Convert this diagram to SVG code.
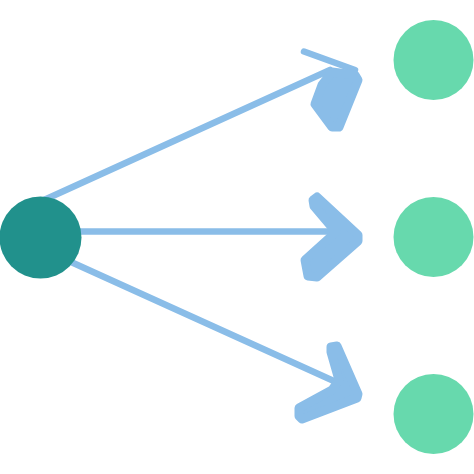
<svg xmlns="http://www.w3.org/2000/svg" width="474" height="474" viewBox="0 0 474 474">
<style>
.line{stroke:#8abde8;stroke-width:6.5;fill:none;stroke-linecap:round}
.head{fill:#8abde8;stroke:#8abde8;stroke-width:9;stroke-linejoin:round}
.src{fill:#21918c}
.dst{fill:#67d9ad}
</style>
<g id="connectors">
<line class="line" x1="44" y1="200" x2="330" y2="70"/>
<line class="line" x1="60" y1="231.5" x2="340" y2="231.5"/>
<line class="line" x1="60" y1="257" x2="336" y2="382"/>
<line class="line" x1="304" y1="51.5" x2="355" y2="70"/>
<polygon class="head" points="322,85 315,104 332,127 339,127 358,80 355,75 332,72"/>
<polygon class="head" points="317,197 358,235 358,241 317,277 308,276 305,260 336,232 314,206 313,200"/>
<polygon class="head" points="331,347 337,346 358,394 357,398 302,419 299,416 299,408 332,390 339,380 331,352"/>
</g>
<g id="source"><circle class="src" cx="40.5" cy="237.5" r="41"/></g>
<g id="target1"><circle class="dst" cx="433.5" cy="60" r="40"/></g>
<g id="target2"><circle class="dst" cx="433.5" cy="237" r="40"/></g>
<g id="target3"><circle class="dst" cx="433.5" cy="414" r="40"/></g>
</svg>
